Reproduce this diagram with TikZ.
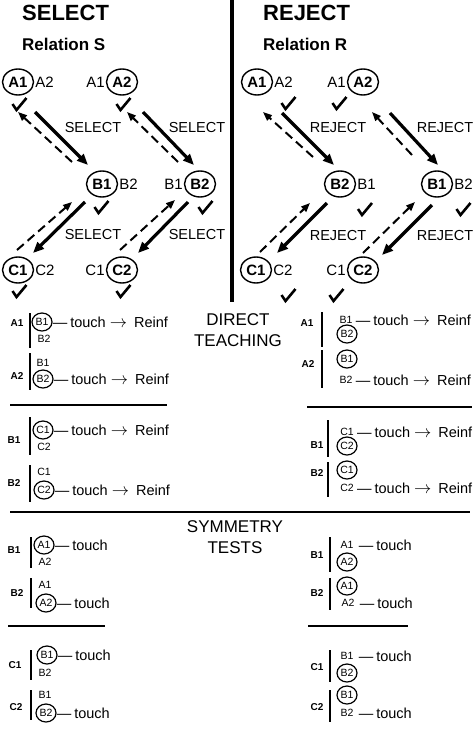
\documentclass[tikz,border=0pt]{standalone}
\usepackage{fontspec}
\setmainfont{Liberation Sans}
\usetikzlibrary{arrows.meta,positioning,shapes.geometric}

\newcommand{\touchreinf}{—\hspace{3pt}touch\hspace{4pt}{\fontsize{16}{16}\selectfont$\rightarrow$}\hspace{7pt}Reinf}
\newcommand{\touchonly}{—\hspace{3pt}touch}

\tikzset{
  hd/.style={font=\bfseries\fontsize{22}{24}\selectfont, inner sep=0pt},
  rel/.style={font=\bfseries\fontsize{17}{19}\selectfont, inner sep=0pt},
  itm/.style={font=\fontsize{15}{17}\selectfont, inner sep=1pt},
  ring/.style={ellipse, draw, line width=1.4pt, minimum width=31pt, minimum height=26pt, inner sep=0pt, font=\bfseries\fontsize{15}{17}\selectfont},
  lbl/.style={font=\fontsize{14.5}{16}\selectfont, inner sep=0pt},
  sec/.style={font=\fontsize{17}{20.5}\selectfont, align=center, inner sep=0pt},
  sm/.style={font=\fontsize{10.5}{12}\selectfont, inner sep=0pt},
  side/.style={font=\bfseries\fontsize{10}{12}\selectfont, inner sep=0pt},
  sring/.style={ellipse, draw, line width=1.2pt, minimum width=20pt, minimum height=18pt, inner sep=0pt, font=\fontsize{10.5}{12}\selectfont},
  tch/.style={font=\fontsize{14.5}{16}\selectfont, inner sep=0pt, anchor=west},
  bar/.style={line width=1.6pt},
  sep/.style={line width=1.2pt},
  sel/.style={line width=3.2pt, -{Triangle[length=11pt,width=9pt]}},
  back/.style={line width=2pt, dash pattern=on 9pt off 5pt, -{Triangle[length=9pt,width=7pt]}},
  chk/.pic={\draw[line width=2.6pt, line join=miter] (-7,-1) -- (-3,5) -- (7,-7);}
}

\begin{document}
\begin{tikzpicture}[x=1pt, y=-1pt]
\useasboundingbox (0,0) rectangle (474,745);

\node[hd, anchor=base west] (tsel) at (22,20) {SELECT};
\node[rel, anchor=base west] (rels) at (22,50) {Relation S};
\node[hd, anchor=base west] (trej) at (263,20) {REJECT};
\node[rel, anchor=base west] (relr) at (263,50) {Relation R};
\draw[line width=3.5pt] (232,0) -- (232,302);

% relation S
\node[ring] (sa1) at (18,82) {A1};
\node[itm, right=0pt of sa1] (sa1x) {A2};
\node[ring] (sa2) at (122,82) {A2};
\node[itm, left=0pt of sa2] (sa2x) {A1};
\node[ring] (sb1) at (102,184) {B1};
\node[itm, right=0pt of sb1] (sb1x) {B2};
\node[ring] (sb2) at (200,184) {B2};
\node[itm, left=0pt of sb2] (sb2x) {B1};
\node[ring] (sc1) at (18,270) {C1};
\node[itm, right=0pt of sc1] (sc1x) {C2};
\node[ring] (sc2) at (122,270) {C2};
\node[itm, left=0pt of sc2] (sc2x) {C1};

\pic at (19.5,105) {chk};
\pic at (123.5,105) {chk};
\pic at (101.5,208) {chk};
\pic at (205.5,208) {chk};
\pic at (19.5,292) {chk};
\pic at (123.5,292) {chk};

\coordinate (s1a) at (35,112); \coordinate (s1b) at (88,165);
\coordinate (d1a) at (72,162); \coordinate (d1b) at (18,112);
\coordinate (s2a) at (143,112); \coordinate (s2b) at (194,165);
\coordinate (d2a) at (178,162); \coordinate (d2b) at (127,112);
\coordinate (s3a) at (85,202); \coordinate (s3b) at (33,253);
\coordinate (d3a) at (17,250); \coordinate (d3b) at (72,202);
\coordinate (s4a) at (188,202); \coordinate (s4b) at (138,253);
\coordinate (d4a) at (120,250); \coordinate (d4b) at (175,200);
\draw[sel] (s1a) -- (s1b);
\draw[back] (d1a) -- (d1b);
\draw[sel] (s2a) -- (s2b);
\draw[back] (d2a) -- (d2b);
\draw[sel] (s3a) -- (s3b);
\draw[back] (d3a) -- (d3b);
\draw[sel] (s4a) -- (s4b);
\draw[back] (d4a) -- (d4b);
\node[lbl] (ls1) at (93,128) {SELECT};
\node[lbl] (ls2) at (197,128) {SELECT};
\node[lbl] (ls3) at (93,235) {SELECT};
\node[lbl] (ls4) at (197,235) {SELECT};

% relation R
\node[ring] (ra1) at (257,82) {A1};
\node[itm, right=0pt of ra1] (ra1x) {A2};
\node[ring] (ra2) at (363,82) {A2};
\node[itm, left=0pt of ra2] (ra2x) {A1};
\node[ring] (rb2) at (340,184) {B2};
\node[itm, right=0pt of rb2] (rb2x) {B1};
\node[ring] (rb1) at (437,184) {B1};
\node[itm, right=0pt of rb1] (rb1x) {B2};
\node[ring] (rc1) at (256,270) {C1};
\node[itm, right=0pt of rc1] (rc1x) {C2};
\node[ring] (rc2) at (363,270) {C2};
\node[itm, left=0pt of rc2] (rc2x) {C1};

\pic at (288.5,104) {chk};
\pic at (339.5,104) {chk};
\pic at (365,210) {chk};
\pic at (463.5,210) {chk};
\pic at (288.5,296) {chk};
\pic at (336.5,296) {chk};

\coordinate (s5a) at (282,113); \coordinate (s5b) at (334,165);
\coordinate (d5a) at (313,157); \coordinate (d5b) at (263,112);
\coordinate (s6a) at (390,113); \coordinate (s6b) at (438,165);
\coordinate (d6a) at (412,155); \coordinate (d6b) at (372,112);
\coordinate (s7a) at (327,203); \coordinate (s7b) at (277,253);
\coordinate (d7a) at (260,252); \coordinate (d7b) at (310,203);
\coordinate (s8a) at (432,205); \coordinate (s8b) at (382,255);
\coordinate (d8a) at (363,253); \coordinate (d8b) at (415,202);
\draw[sel] (s5a) -- (s5b);
\draw[back] (d5a) -- (d5b);
\draw[sel] (s6a) -- (s6b);
\draw[back] (d6a) -- (d6b);
\draw[sel] (s7a) -- (s7b);
\draw[back] (d7a) -- (d7b);
\draw[sel] (s8a) -- (s8b);
\draw[back] (d8a) -- (d8b);
\node[lbl] (lr1) at (338,128) {REJECT};
\node[lbl] (lr2) at (445,128) {REJECT};
\node[lbl] (lr3) at (338,236) {REJECT};
\node[lbl] (lr4) at (445,236) {REJECT};

% direct teaching
\node[sec] (dteach) at (238,330) {DIRECT\\TEACHING};

\node[side] (lA1) at (17,323) {A1};
\draw[bar] (30,313) -- (30,348);
\node[sring] (lA1c) at (42,322) {B1};
\node[sm] (lA1o) at (44,339) {B2};
\node[tch, right=0pt of lA1c] (lA1t) {\touchreinf};
\node[side] (lA2) at (17,376) {A2};
\draw[bar] (30,353) -- (30,390);
\node[sm] (lA2o) at (43,363) {B1};
\node[sring] (lA2c) at (43,379) {B2};
\node[tch, right=0pt of lA2c] (lA2t) {\touchreinf};
\draw[sep] (10,405) -- (167,405);
\node[side] (lB1) at (14,440) {B1};
\draw[bar] (30,417) -- (30,455);
\node[sring] (lB1c) at (43,430) {C1};
\node[sm] (lB1o) at (44,447) {C2};
\node[tch, right=0pt of lB1c] (lB1t) {\touchreinf};
\node[side] (lB2) at (14,483) {B2};
\draw[bar] (30,465) -- (30,502);
\node[sm] (lB2o) at (44,472) {C1};
\node[sring] (lB2c) at (44,490) {C2};
\node[tch, right=0pt of lB2c] (lB2t) {\touchreinf};

\node[side] (rA1) at (307,323) {A1};
\draw[bar] (322,312) -- (322,347);
\node[sm] (rA1o) at (346,320) {B1};
\node[tch, right=3pt of rA1o] (rA1t) {\touchreinf};
\node[sring] (rA1c) at (347,334) {B2};
\node[side] (rA2) at (308,364) {A2};
\draw[bar] (322,350) -- (322,388);
\node[sring] (rA2c) at (347,359) {B1};
\node[sm] (rA2o) at (346,380) {B2};
\node[tch, right=3pt of rA2o] (rA2t) {\touchreinf};
\draw[sep] (307,407) -- (472,407);
\node[side] (rB1) at (317,445) {B1};
\draw[bar] (328,420) -- (328,457);
\node[sm] (rB1o) at (347,432) {C1};
\node[tch, right=3pt of rB1o] (rB1t) {\touchreinf};
\node[sring] (rB1c) at (347,446) {C2};
\node[side] (rB2) at (317,473) {B2};
\draw[bar] (328,462) -- (328,497);
\node[sring] (rB2c) at (347,470) {C1};
\node[sm] (rB2o) at (347,488) {C2};
\node[tch, right=3pt of rB2o] (rB2t) {\touchreinf};

\draw[sep] (10,512) -- (470,512);

% symmetry tests
\node[sec] (symm) at (235,537) {SYMMETRY\\TESTS};

\node[side] (tB1) at (14,550) {B1};
\draw[bar] (31,537) -- (31,568);
\node[sring] (tB1c) at (44,545) {A1};
\node[sm] (tB1o) at (45,562) {A2};
\node[tch, right=0pt of tB1c] (tB1t) {\touchonly};
\node[side] (tB2) at (17,593) {B2};
\draw[bar] (31,578) -- (31,608);
\node[sm] (tB2o) at (45,585) {A1};
\node[sring] (tB2c) at (46,603) {A2};
\node[tch, right=0pt of tB2c] (tB2t) {\touchonly};
\draw[sep] (8,626) -- (105,626);
\node[side] (tC1) at (15,665) {C1};
\draw[bar] (31,650) -- (31,680);
\node[sring] (tC1c) at (47,655) {B1};
\node[sm] (tC1o) at (45,673) {B2};
\node[tch, right=0pt of tC1c] (tC1t) {\touchonly};
\node[side] (tC2) at (16,707) {C2};
\draw[bar] (31,690) -- (31,720);
\node[sm] (tC2o) at (45,695) {B1};
\node[sring] (tC2c) at (46,713) {B2};
\node[tch, right=0pt of tC2c] (tC2t) {\touchonly};

\node[side] (uB1) at (317,555) {B1};
\draw[bar] (330,537) -- (330,572);
\node[sm] (uB1o) at (347,545) {A1};
\node[tch, right=5pt of uB1o] (uB1t) {\touchonly};
\node[sring] (uB1c) at (347,562) {A2};
\node[side] (uB2) at (317,593) {B2};
\draw[bar] (330,578) -- (330,610);
\node[sring] (uB2c) at (347,586) {A1};
\node[sm] (uB2o) at (348,603) {A2};
\node[tch, right=5pt of uB2o] (uB2t) {\touchonly};
\draw[sep] (308,626) -- (408,626);
\node[side] (uC1) at (317,667) {C1};
\draw[bar] (330,650) -- (330,682);
\node[sm] (uC1o) at (347,656) {B1};
\node[tch, right=5pt of uC1o] (uC1t) {\touchonly};
\node[sring] (uC1c) at (347,673) {B2};
\node[side] (uC2) at (317,707) {C2};
\draw[bar] (330,690) -- (330,722);
\node[sring] (uC2c) at (347,695) {B1};
\node[sm] (uC2o) at (347,713) {B2};
\node[tch, right=5pt of uC2o] (uC2t) {\touchonly};
\end{tikzpicture}
\end{document}
